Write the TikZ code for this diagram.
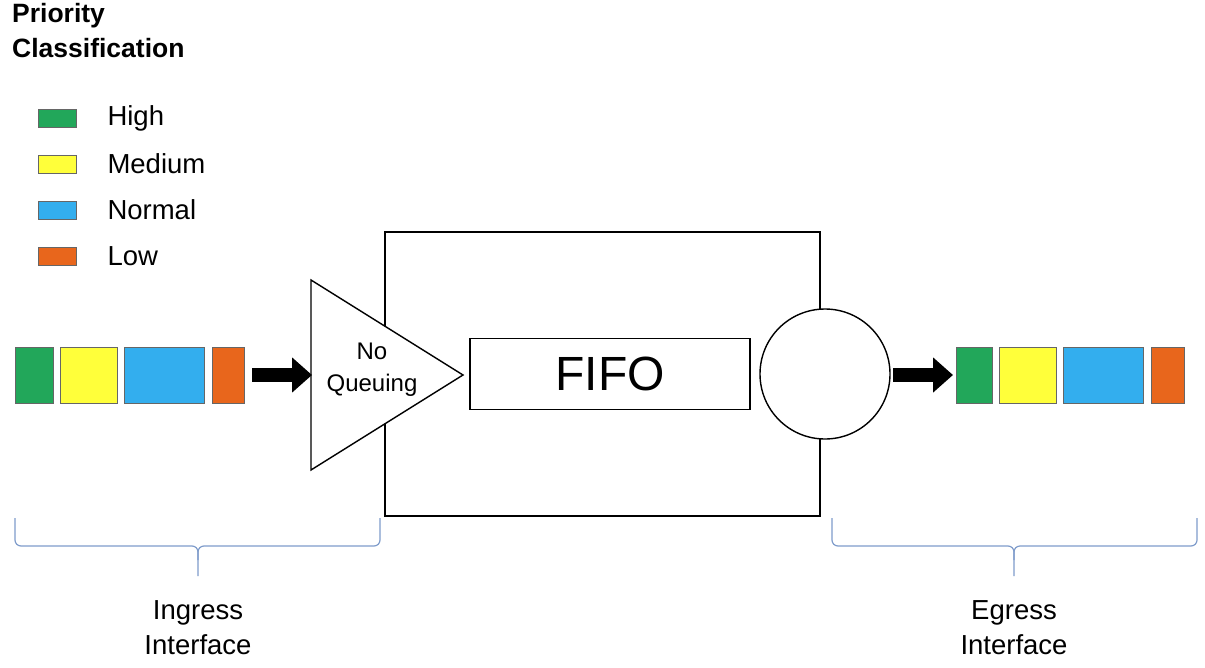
\documentclass[tikz,border=0pt]{standalone}
\usepackage{fontspec}
\setmainfont{Liberation Sans}
\usetikzlibrary{arrows.meta}
\begin{document}
\begin{tikzpicture}[x=1pt,y=-1pt,
  pk/.style={draw=black!60,line width=0.6pt},
  lbl/.style={font=\fontsize{27.5}{35}\selectfont,align=center},
  brace/.style={draw=bc,line width=1.2pt,rounded corners=6pt},
  fat/.style={line width=14pt,-{Triangle[length=20pt,width=34pt]}}]
\definecolor{cg}{HTML}{22A75A}\definecolor{cy}{HTML}{FFFF3A}
\definecolor{cb}{HTML}{33AEEE}\definecolor{co}{HTML}{E8661C}
\definecolor{bc}{HTML}{7F9CCB}
\useasboundingbox[fill=white] (0,0) rectangle (1205,667);
\node[anchor=north west,align=left,font=\bfseries\fontsize{26.5}{35}\selectfont,inner sep=0] (title) at (12,3) {Priority\\Classification};
\foreach \c/\t/\y [count=\i] in {cg/High/118,cy/Medium/164,cb/Normal/210,co/Low/256}{
  \draw[pk,fill=\c] (38,\y-9) rectangle (76,\y+9);
  \node[anchor=west,font=\fontsize{27.5}{30}\selectfont] (leg\i) at (104,\y) {\t};}
\foreach \a/\b/\c in {15/53/cg,60/117/cy,124/204/cb,212/244/co,956/992/cg,999/1056/cy,1063/1143/cb,1151/1184/co}
  \draw[pk,fill=\c] (\a,347) rectangle (\b,403);
\draw[line width=1.4pt] (385,232) rectangle (820,516);
\node[fill=white,draw,line width=1.4pt,circle,minimum size=130pt,inner sep=0] (circ) at (825,374) {};
\draw[line width=1.4pt,fill=white] (311,280) -- (311,470) -- (463,375) -- cycle;
\node[font=\fontsize{24}{32}\selectfont,align=center] (nq) at (372,370) {No\\Queuing};
\node[draw,line width=1.4pt,minimum width=280pt,minimum height=71pt,font=\fontsize{48}{50}\selectfont] (fifo) at (610,374) {FIFO};
\coordinate (a1) at (252,375); \coordinate (a2) at (312,375);
\coordinate (b1) at (893,375); \coordinate (b2) at (953,375);
\draw[fat] (a1) -- (a2); \draw[fat] (b1) -- (b2);
\draw[brace] (15,518) -- (15,546) -- (198,546) -- (198,576);
\draw[brace] (198,560) -- (198,546) -- (380,546) -- (380,518);
\draw[brace] (832,518) -- (832,546) -- (1014,546) -- (1014,576);
\draw[brace] (1014,560) -- (1014,546) -- (1197,546) -- (1197,518);
\node[lbl] (ing) at (198,628) {Ingress\\Interface};
\node[lbl] (egr) at (1014,628) {Egress\\Interface};
\end{tikzpicture}
\end{document}
